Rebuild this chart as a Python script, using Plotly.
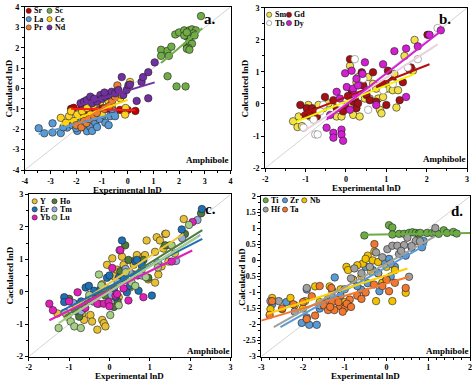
import plotly.graph_objects as go

FONT = "Liberation Serif"
W, H = 474, 384

# ---------------- Panel a ----------------
sr_x = [-2.2, -2.1, -1.8, -1.6, -1.3, -1.0, -0.8, -0.6, -0.3, 0.0, 0.3]
sr_y = [-1.0, -0.95, -1.0, -1.05, -1.0, -0.95, -1.0, -1.05, -1.05, -1.05, -1.1]
sc_x = [1.3, 1.3, 1.55, 1.6, 1.7, 1.85, 2.0, 2.2, 2.3, 2.4, 2.5, 2.65, 2.3, 2.4, 2.5, 2.35, 2.45, 2.55, 2.2, 2.3, 2.6, 1.55, 1.9, 2.25, 2.85, 2.3, 2.4]
sc_y = [1.9, 1.6, 1.85, 1.6, 2.05, 2.65, 2.75, 2.85, 2.55, 2.85, 2.9, 2.85, 2.1, 2.3, 2.2, 2.0, 2.55, 2.7, 2.6, 2.75, 2.6, 0.6, 0.1, 0.1, 3.55, 1.95, 1.9]
la_x = [-3.46, -3.24, -2.92, -2.92, -2.6, -2.35, -2.15, -1.96, -1.7, -1.64, -1.58, -1.45, -1.38, -1.26, -1.19, -1.0, -0.87, -0.74, -0.68, -0.55, -0.49, -1.9, -1.77, -1.38, -0.6, -2.5, -2.0, -1.1]
la_y = [-1.95, -2.2, -2.16, -1.71, -2.19, -1.92, -1.8, -2.08, -1.76, -1.95, -2.1, -1.89, -2.08, -1.68, -1.89, -1.44, -1.68, -1.8, -1.36, -1.2, -1.36, -1.36, -1.52, -1.36, -1.0, -1.9, -1.95, -1.5]
ce_x = [-2.6, -2.4, -2.28, -2.2, -2.09, -1.96, -1.77, -1.7, -1.58, -1.45, -1.32, -1.19, -1.06, -1.0, -0.87, -0.74, -0.62, -0.42, -0.29, -0.23, -0.1, -0.08, 0.09, 0.03]
ce_y = [-1.44, -1.68, -1.36, -1.12, -1.6, -1.28, -1.12, -1.44, -0.96, -1.28, -0.8, -1.12, -0.64, -1.28, -0.96, -0.64, -0.8, -0.16, -0.48, -0.32, -1.28, -0.96, 0.32, 0.08]
pr_x = [-2.0, -1.8, -1.7, -1.6, -1.5, -1.3, -1.2, -0.9, -0.7, -0.6, -0.5, -0.4]
pr_y = [-1.8, -1.9, -1.6, -1.7, -1.5, -1.4, -1.2, -1.0, -0.85, -0.6, -0.4, 0.15]
nd_x = [-1.83, -1.7, -1.58, -1.45, -1.38, -1.19, -1.06, -1.0, -0.87, -0.74, -0.62, -0.49, -0.36, -0.23, -0.17, -0.04, 0.03, 0.09, 0.35, 0.54, 0.6, 0.8, 0.8, 1.05, -1.3, -0.9]
nd_y = [-0.72, -0.64, -0.56, -0.4, -0.72, -0.64, -0.32, -0.51, -0.4, -0.32, -0.16, -0.24, -0.08, 0.56, -0.32, -0.08, 0.16, 0.19, -0.61, 0.32, 0.56, 0.8, -0.48, 1.28, -0.5, -0.2]
# fitted lines (endpoints)
sr_fit = ([-2.2, 0.3], [-1.0, -1.07])
sc_fit = ([1.3, 2.9], [1.25, 2.95])
la_fit = ([-3.46, -0.42], [-2.24, -1.2])
ce_fit = ([-2.6, 0.0], [-1.76, -0.56])
pr_fit = ([-2.09, -0.36], [-1.84, -0.48])
nd_fit = ([-1.83, 1.05], [-0.8, 0.3])

# ---------------- Panel b ----------------
sm_x = [-1.31, -1.17, -1.2, -1.09, -0.93, -0.89, -0.68, -0.56, -0.43, -0.23, -0.23, -0.11, -0.07, 0.1, 0.1, 0.18, 0.26, 0.3, 0.34, 0.47, 0.55, 0.59, 0.67, 0.75, 0.8, 0.84, 0.88, 0.92, 1.0, 1.08, 1.16, 1.2, 1.25, 1.29, 1.45, 1.7, 1.66]
sm_y = [-0.54, -0.39, -0.72, -0.69, -0.03, -0.39, -0.03, -0.13, 0.02, 0.07, -0.39, -0.39, -0.18, -0.03, 1.19, -0.34, 0.68, 0.84, -0.39, 0.17, 0.84, 0.17, 0.63, 0.48, 0.17, -0.18, -0.29, 0.22, 0.48, 0.48, 0.43, 0.94, -0.11, 0.43, 1.5, 2.0, 1.04]
gd_x = [-1.13, -1.0, -0.97, -0.84, -0.76, -0.72, -0.52, -0.31, -0.23, -0.07, -0.02, 0.1, 0.14, 0.18, 0.22, 0.26, 0.3, 0.39, 0.43, 0.51, 0.59, 0.67, 0.75, 0.84, 0.92, 1.0, 1.04, 1.12, 1.16, 1.33, 1.41, 1.57, 2.02, 1.61, -0.9, 0.05]
gd_y = [-0.03, -0.34, -0.13, -0.13, -0.23, -0.39, 0.22, 0.12, -0.13, -0.23, -0.03, 1.4, 0.43, 0.07, 0.17, -0.13, 0.02, 0.99, 0.58, 0.28, 0.12, 0.99, 0.07, 0.58, 0.63, -0.03, 1.04, 0.68, 0.73, 0.12, 0.68, 1.09, 2.16, 1.14, -0.35, 0.25]
tb_x = [-1.05, -0.76, -0.7, -0.8, -0.64, -0.56, 0.22, 0.43, 0.55, 0.92, 1.16, 1.53, 1.78, 2.27, -0.15]
tb_y = [-0.74, -0.95, -0.95, -0.49, -0.23, -0.03, 1.4, 0.79, -0.18, 0.43, 0.63, 1.14, 1.4, 2.37, 0.02]
dy_x = [-0.48, -0.31, -0.31, -0.11, -0.11, -0.07, -0.39, -0.23, -0.15, -0.02, 0.02, 0.1, 0.14, 0.18, 0.22, 0.3, 0.41, 0.47, 0.51, 0.75, 0.92, 1.2, 1.49, 1.49, 1.78, 2.07, 2.35, 0.26]
dy_y = [-0.74, -0.9, -1.05, -0.8, -0.95, -1.15, -0.34, 0.38, 0.17, 0.96, 0.53, -0.18, 1.04, 0.48, 0.28, 0.58, 0.94, 1.3, 0.43, -0.03, 1.24, 1.65, 1.73, 0.22, 1.8, 2.16, 2.3, 0.79]
sm_fit = ([-1.3, 1.7], [-0.59, 0.94])
gd_fit = ([-1.13, 2.07], [-0.34, 1.24])
tb_fit = ([-1.05, 2.27], [-0.85, 1.86])
dy_fit = ([-0.48, 2.35], [-0.49, 2.27])

# ---------------- Panel c ----------------
y_x = [-1.29, -1.04, -0.67, -0.63, -0.47, -0.43, -0.3, -0.18, -0.14, -0.1, -0.26, -0.39, -0.18, -0.06, 0.07, 0.11, 0.19, 0.23, 0.31, 0.35, 0.39, 0.51, 0.6, 0.64, 0.68, 0.8, 0.84, 0.88, 0.92, 0.96, 1.13, 1.13, 1.17, 1.21, 1.25, 1.29, 1.34, 1.38, 1.46, 1.5, 1.62, 1.84, 1.4]
y_y = [-0.67, -0.77, -0.67, -0.87, -0.72, -0.92, -1.17, -0.87, -0.97, -1.07, -0.37, -0.22, 0.23, 0.83, 1.03, 0.48, 0.68, -0.17, 1.08, 0.83, 0.38, 0.13, 0.83, 0.98, 1.13, 0.68, 1.08, 1.13, 1.58, 0.38, 1.23, 0.28, 1.68, 0.53, 1.58, 0.78, 1.33, 1.78, 0.93, 1.43, 1.18, 2.24, 1.79]
ho_x = [-1.0, -0.75, -0.63, -0.51, -0.34, -0.1, 0.11, 0.27, 0.39, 0.47, 0.6, 0.84, 0.96, 1.38, 1.87, 2.27, -0.85, 0.2, 0.7]
ho_y = [-0.22, -0.77, -0.37, -0.22, -0.02, -0.12, -0.47, 0.63, 1.43, 0.98, 0.53, 0.98, 0.43, 1.43, 1.78, 2.42, -0.6, -0.3, 0.5]
er_x = [-1.12, -1.12, -0.87, -0.59, -0.51, -0.38, -0.22, -0.06, 0.11, 0.15, 0.23, 0.31, 0.35, 0.43, 0.51, 0.64, 0.68, 0.72, 0.8, 1.05, 1.79, 2.29, -0.7, 0.0]
er_y = [-0.17, -0.32, -0.37, 0.13, 0.18, 0.03, 0.08, 0.43, 0.08, -0.17, 0.43, 1.58, 0.43, -0.02, 0.18, 0.93, 0.98, 0.03, 0.83, -0.12, 1.92, 2.55, -0.3, 0.5]
tm_x = [-0.7, -0.4, -0.1, 0.2, 0.25, 0.5, 0.8, 1.2, 1.65, 1.8, 2.18, -0.9, 0.05, 0.4]
tm_y = [-0.6, -0.3, 0.1, 0.3, 1.28, 0.6, 0.5, 0.9, 0.95, 1.65, 2.21, -0.35, -0.1, 0.7]
yb_x = [-1.49, -1.4, -0.79, -0.42, -0.3, -0.14, -0.02, 0.07, 0.15, 0.19, 0.27, 0.47, 0.84, 1.54, 2.06, -1.0, -0.6, 0.35, 0.0]
yb_y = [-0.37, -0.57, -0.02, -0.22, -0.37, -0.37, -0.32, 0.73, -0.12, -0.07, 1.28, -0.27, -0.17, 0.93, 2.15, -0.3, -0.5, 0.1, -0.45]
lu_x = [-1.26, -0.96, -0.87, -0.71, -0.26, 0.02, 0.23, 0.55, 0.64, 1.54, 1.97, -1.1, -0.5, -0.2, 0.4, 0.9, 1.2]
lu_y = [-1.12, -0.92, -1.07, -1.12, 0.53, -0.72, -0.42, 0.28, 0.18, 1.43, 2.06, -0.65, -0.1, 0.2, 0.6, 0.45, 0.75]
y_fit = ([-1.0, 1.83], [-0.57, 1.78])
ho_fit = ([-1.1, 2.3], [-0.75, 1.9])
er_fit = ([-1.2, 2.3], [-0.6, 1.63])
tm_fit = ([-1.1, 2.25], [-0.85, 1.75])
yb_fit = ([-1.49, 2.05], [-0.88, 1.27])
lu_fit = ([-1.26, 2.2], [-0.97, 1.7])

# ---------------- Panel d ----------------
ti_x = [-0.53, 0.06, 0.14, 0.14, 0.3, 0.42, 0.54, 0.62, 0.7, 0.77, 0.81, 0.97, 1.09, 1.17, 1.25, 1.37, 1.45, 1.6, 1.68]
ti_y = [0.78, 1.1, 1.03, 0.81, 0.83, 0.83, 0.86, 0.88, 0.86, 0.84, 0.86, 0.86, 0.86, 0.89, 0.83, 0.94, 0.86, 0.89, 0.84]
zr_x = [-2.74, -2.03, -1.91, -1.85, -1.67, -1.91, -1.44, -1.24, -0.92, -0.61, -0.45, -0.33, -0.06, 0.06, 0.46, 0.85, 0.89, -0.17, -2.4, -1.6, -1.1, -0.8, -0.2, 0.2, 0.6, -1.3, -0.5, -0.1, 0.1, -0.7]
zr_y = [-1.37, -1.95, -1.78, -2.01, -2.01, -0.91, -1.32, -0.53, -1.37, -0.91, -0.71, -0.3, -0.05, 0.05, 0.15, 0.41, 0.61, -0.96, -1.3, -1.5, -1.1, -0.6, -0.4, -0.2, 0.4, -0.95, -0.2, -0.7, -0.5, -0.8]
nb_x = [-2.78, -2.74, -2.5, -2.3, -1.95, -1.71, -1.36, -0.96, -0.92, -0.57, -0.45, -0.37, -0.33, -0.29, -0.25, 0.14, 0.46, -2.0, -1.6, -1.1, -0.8, -0.6, -0.1, 0.2, -1.4, -2.2, -0.5, -0.2, 0.0, -0.7, -1.0]
nb_y = [-1.52, -1.17, -1.52, -1.17, -1.27, -0.81, -0.81, -0.2, -0.3, -0.1, 0.15, -0.35, 0.0, 0.28, -1.27, -1.27, -1.01, -1.5, -1.3, -0.9, -0.6, -0.5, -0.7, -0.3, -1.2, -1.4, 0.05, -0.05, -0.2, -0.15, -1.3]
hf_x = [-2.78, -2.58, -1.91, -1.28, -0.85, -0.77, -0.25, 0.02, 0.14, 0.26, 0.42, 0.5, 0.7, 1.17, 0.54, -2.2, -1.6, -1.0, -0.6, -0.4, -0.1, 0.3, 0.8, -1.4, 0.0, 0.35, 0.6, -0.2, 0.1]
hf_y = [-1.27, -1.27, -0.86, -1.17, -0.56, -0.25, 0.25, 0.35, 0.46, 0.46, 0.48, 0.71, 0.61, 1.01, -0.51, -1.6, -1.4, -0.9, -0.4, -0.2, 0.1, 0.2, 0.6, -1.3, -0.6, 0.3, 0.45, -0.4, -0.1]
ta_x = [-2.74, -2.23, -1.91, -1.79, -1.71, -1.32, -1.2, -1.12, -0.88, -0.29, 0.06, 0.46, -2.8, -2.5, -2.0, -1.5, -1.4, -1.3, -1.0, -0.95, -0.7, -0.5, -0.3, -0.1, 0.0, 0.2, -1.05, -1.25, -1.15, -0.85, -1.35, -0.6, -1.6]
ta_y = [-1.27, -1.37, -1.83, -1.12, -1.72, -0.86, -1.22, -1.42, -1.22, 0.51, -0.96, -0.86, -1.7, -1.5, -1.3, -1.4, -1.55, -1.3, -1.5, -1.35, -1.1, -1.0, -0.75, -0.8, -0.6, -0.7, -1.6, -1.55, -1.3, -1.45, -1.45, -1.2, -0.8]
ti_fit = ([-0.53, 2.0], [0.8, 0.86])
zr_fit = ([-2.54, 0.97], [-2.08, 0.51])
nb_fit = ([-2.86, 0.5], [-1.67, -0.25])
hf_fit = ([-2.7, 1.17], [-2.08, 0.76])
ta_fit = ([-3.0, 0.54], [-1.88, -0.51])

# axis ranges / ticks
a_range = [-4, 4]
b_range = [-2, 3]
c_range = [-2, 3]
d_range = [-3, 2]
a_ticks = [-4, -3, -2, -1, 0, 1, 2, 3, 4]
bc_ticks = [-2, -1, 0, 1, 2, 3]
d_xticks = [-3, -2, -1, 0, 1, 2]
d_yticks = [-3, -2.5, -2, -1.5, -1, -0.5, 0, 0.5, 1, 1.5, 2]

# series: (name, x, y, fill, edge, line colour, fit)
panels = [
    dict(ax="", rng=a_range, xt=a_ticks, yt=a_ticks, ytitle="Calculated lnD", series=[
        ("Sr", sr_x, sr_y, "#c00000", "#222", "#ff1a1a", sr_fit),
        ("Sc", sc_x, sc_y, "#70ad47", "#222", "#70ad47", sc_fit),
        ("La", la_x, la_y, "#5b9bd5", "#222", "#5b9bd5", la_fit),
        ("Ce", ce_x, ce_y, "#ffd320", "#222", "#ffd700", ce_fit),
        ("Pr", pr_x, pr_y, "#ed7d31", "#222", "#ed7d31", pr_fit),
        ("Nd", nd_x, nd_y, "#7030a0", "#222", "#7030a0", nd_fit)]),
    dict(ax="2", rng=b_range, xt=bc_ticks, yt=bc_ticks, ytitle="Calculated lnD", series=[
        ("Sm", sm_x, sm_y, "#f2e14a", "#222", "#f5f500", sm_fit),
        ("Gd", gd_x, gd_y, "#a50f15", "#222", "#b01010", gd_fit),
        ("Tb", tb_x, tb_y, "#ffffff", "#777", "#e6d4dc", tb_fit),
        ("Dy", dy_x, dy_y, "#d21fd2", "#222", "#d21fd2", dy_fit)]),
    dict(ax="3", rng=c_range, xt=bc_ticks, yt=bc_ticks, ytitle="Caclulated lnD", series=[
        ("Y", y_x, y_y, "#e8c034", "#222", "#f0c830", y_fit),
        ("Ho", ho_x, ho_y, "#4f7a3a", "#222", "#4f7a3a", ho_fit),
        ("Er", er_x, er_y, "#1f6fb5", "#222", "#1f6fb5", er_fit),
        ("Tm", tm_x, tm_y, "#94a8dc", "#222", "#94a8dc", tm_fit),
        ("Yb", yb_x, yb_y, "#e020b8", "#222", "#e020b8", yb_fit),
        ("Lu", lu_x, lu_y, "#a5cf85", "#222", "#a5cf85", lu_fit)]),
    dict(ax="4", rng=d_range, xt=d_xticks, yt=d_yticks, ytitle="Calculated lnD", series=[
        ("Ti", ti_x, ti_y, "#6aab45", "#222", "#6aab45", ti_fit),
        ("Zr", zr_x, zr_y, "#5b9bd5", "#222", "#5b9bd5", zr_fit),
        ("Nb", nb_x, nb_y, "#f2c200", "#222", "#ffd000", nb_fit),
        ("Hf", hf_x, hf_y, "#a0a0a0", "#222", "#a0a0a0", hf_fit),
        ("Ta", ta_x, ta_y, "#f07830", "#222", "#f07830", ta_fit)]),
]

# plot-area pixel boxes (left, right, top, bottom)
boxes = [(22, 230, 3, 170), (265, 469, 4, 168), (26, 230, 195, 361), (261, 472, 197, 361)]
labels = ["a.", "b.", "c.", "d."]
label_pos = [(209, 15), (447, 15), (210, 210), (459, 212)]
amph_pos = [(207, 160), (446, 159), (208, 355), (449, 355)]
xtitle_off = [20.5, 20.5, 19.5, 19.5]
ytitle_x = [7, 245, 8, 242]
# legend layout: (first marker x, column spacing, first row y, row spacing, columns)
legend_layout = [(26, 21, 7, 8.5, 2), (269, 20, 11, 8.5, 2), (32, 20, 202, 8.3, 2), (265.5, 19.5, 201, 9.5, 3)]

fig = go.Figure()

for p in panels:
    xa, ya = "x" + p["ax"], "y" + p["ax"]
    # 1:1 reference line
    fig.add_trace(go.Scatter(x=p["rng"], y=p["rng"], mode="lines", xaxis=xa, yaxis=ya,
                             line=dict(color="#d4d4d4", width=1), showlegend=False, hoverinfo="skip"))
    for name, x, y, fill, edge, lc, fit in p["series"]:
        fig.add_trace(go.Scatter(x=x, y=y, mode="markers", name=name, xaxis=xa, yaxis=ya,
                                 marker=dict(size=7.5, color=fill, line=dict(color=edge, width=0.6)),
                                 showlegend=False))
    for name, x, y, fill, edge, lc, fit in p["series"]:
        fig.add_trace(go.Scatter(x=fit[0], y=fit[1], mode="lines", xaxis=xa, yaxis=ya,
                                 line=dict(color=lc, width=2), showlegend=False, hoverinfo="skip"))

tickfont = dict(family=FONT, size=8, color="black", weight="bold")
layout = dict(width=W, height=H, margin=dict(l=0, r=0, t=0, b=0),
              paper_bgcolor="white", plot_bgcolor="white", showlegend=False)

for i, p in enumerate(panels):
    l, r, t, b = boxes[i]
    common = dict(showline=True, linecolor="black", linewidth=1, mirror=True,
                  ticks="outside", ticklen=3, tickwidth=1, tickcolor="black",
                  showgrid=False, zeroline=False, tickfont=tickfont,
                  range=p["rng"], tickmode="array",
                  minor=dict(ticks="outside", ticklen=2, tickcolor="black", nticks=5))
    layout["xaxis" + p["ax"]] = dict(common, domain=[l / W, r / W], anchor="y" + p["ax"],
                                     tickvals=p["xt"], ticktext=[("%g" % v) for v in p["xt"]])
    layout["yaxis" + p["ax"]] = dict(common, domain=[1 - b / H, 1 - t / H], anchor="x" + p["ax"],
                                     tickvals=p["yt"], ticktext=[("%g" % v) for v in p["yt"]])
fig.update_layout(**layout)

ann = []
shapes = []
for i, p in enumerate(panels):
    l, r, t, b = boxes[i]
    ann.append(dict(x=(l + r) / 2 / W, y=1 - (b + xtitle_off[i]) / H, xref="paper", yref="paper",
                    text="Experimental lnD", showarrow=False, xanchor="center", yanchor="middle",
                    font=dict(family=FONT, size=9, color="black", weight="bold")))
    ann.append(dict(x=ytitle_x[i] / W, y=1 - (t + b) / 2 / H, xref="paper", yref="paper",
                    text=p["ytitle"], showarrow=False, textangle=-90, xanchor="center",
                    yanchor="middle", font=dict(family=FONT, size=9, color="black", weight="bold")))
    lx, ly = label_pos[i]
    ann.append(dict(x=lx / W, y=1 - ly / H, xref="paper", yref="paper", text=labels[i],
                    showarrow=False, xanchor="center", yanchor="middle",
                    font=dict(family=FONT, size=15, color="black", weight="bold")))
    axp, ayp = amph_pos[i]
    ann.append(dict(x=axp / W, y=1 - ayp / H, xref="paper", yref="paper", text="Amphibole",
                    showarrow=False, xanchor="center", yanchor="middle",
                    font=dict(family=FONT, size=9, color="black", weight="bold")))
    x0, dx, y0, dyr, ncol = legend_layout[i]
    for k, (name, x, y, fill, edge, lc, fit) in enumerate(p["series"]):
        cx = x0 + (k % ncol) * dx
        cy = y0 + (k // ncol) * dyr
        rad = 2.6
        shapes.append(dict(type="circle", xref="paper", yref="paper",
                           x0=(cx - rad) / W, x1=(cx + rad) / W,
                           y0=1 - (cy + rad) / H, y1=1 - (cy - rad) / H,
                           fillcolor=fill, line=dict(color=edge, width=0.6)))
        ann.append(dict(x=(cx + 3.5) / W, y=1 - cy / H, xref="paper", yref="paper", text=name,
                        showarrow=False, xanchor="left", yanchor="middle",
                        font=dict(family=FONT, size=8, color="black", weight="bold")))

fig.update_layout(annotations=ann, shapes=shapes)
fig.write_html("out.html", config={"displayModeBar": False},
               post_script="document.body.style.margin='0';document.body.style.overflow='hidden';")
